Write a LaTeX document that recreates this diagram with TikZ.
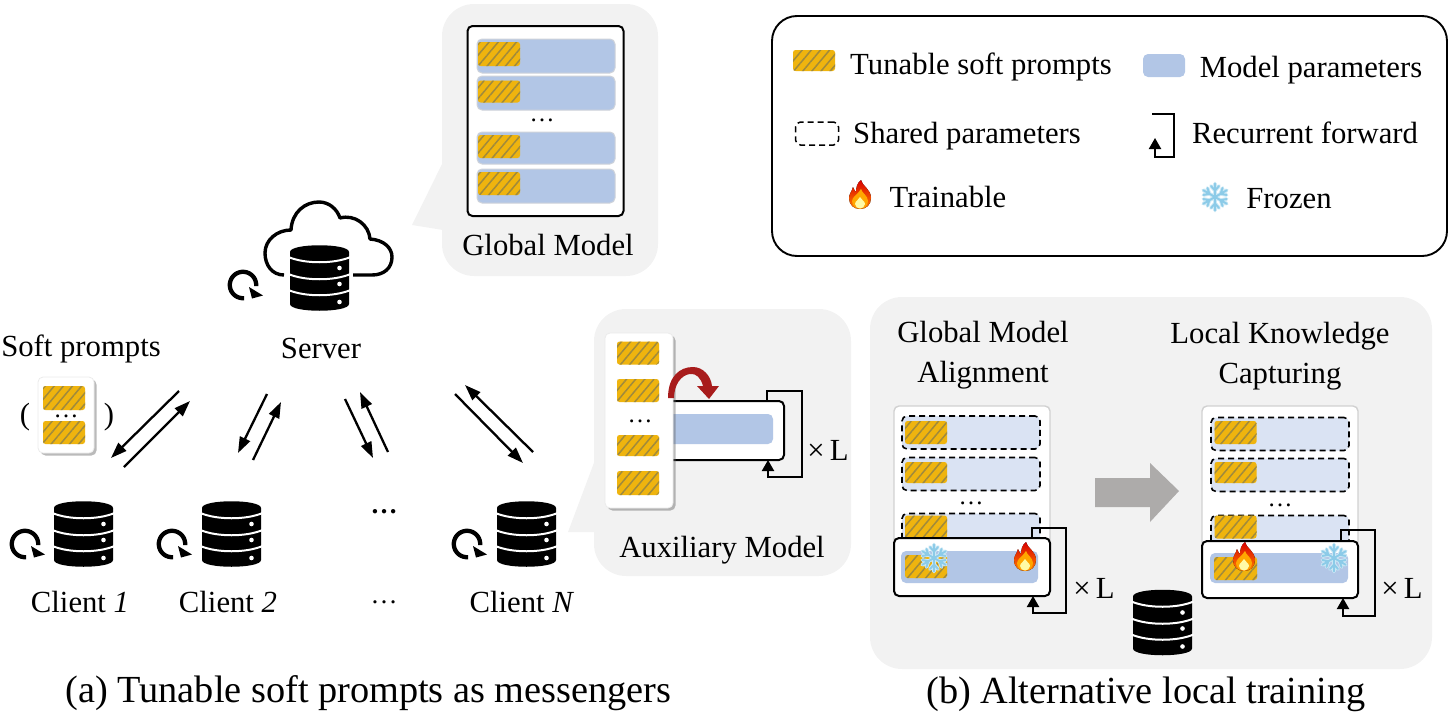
\documentclass[tikz,border=0pt]{standalone}
\usepackage{fontspec}
\setmainfont{Liberation Serif}
\usetikzlibrary{arrows.meta,patterns.meta,shadows}

\definecolor{panelgray}{HTML}{F2F2F2}
\definecolor{promptorange}{HTML}{EFB40E}
\definecolor{promptstripe}{HTML}{A08A3C}
\definecolor{paramblue}{HTML}{B2C6E6}
\definecolor{sharedblue}{HTML}{DAE3F3}
\definecolor{rowedge}{HTML}{CFD3DA}
\definecolor{bigarrow}{HTML}{ADABAA}
\definecolor{redarrow}{HTML}{A81C1C}
\definecolor{snowblue}{HTML}{8CCBE8}

\tikzset{
	lbl/.style={font=\fontsize{30.7}{37}\selectfont,inner sep=0pt,align=center},
	capt/.style={font=\fontsize{38.3}{44}\selectfont,inner sep=0pt,anchor=base},
	ddots/.style={font=\fontsize{25}{25}\selectfont,inner sep=0pt},
	block/.style={inner sep=0pt,outer sep=0pt,rounded corners=5pt},
	panel/.style={block,fill=panelgray,rounded corners=32pt},
	framebox/.style={block,draw=black,line width=2pt,fill=white},
	stackbox/.style={block,draw=black!18,line width=1.4pt,fill=white},
	cardbox/.style={block,fill=white,draw=black!8,line width=.8pt,
		drop shadow={shadow xshift=2.5pt,shadow yshift=-2.5pt,opacity=.45,fill=black!60}},
	param/.style={block,fill=paramblue},
	paramrow/.style={param,draw=rowedge,line width=1pt},
	sharedrow/.style={block,fill=sharedblue,draw=black,line width=1.6pt,dash pattern=on 6pt off 4pt},
	prompt/.style={block,rounded corners=2.5pt,preaction={fill=promptorange},
		pattern={Lines[angle=50,distance=7pt,line width=1.5pt]},pattern color=promptstripe},
	sendline/.style={line width=2.3pt,-{Triangle[length=16pt,width=11pt]}},
	recur/.style={line width=2pt,-{Triangle[length=11pt,width=12pt]}},
	dbicon/.pic={
		\fill[black] (-29.5,-26) .. controls (-29.5,-35) and (29.5,-35) .. (29.5,-26) -- (29.5,26)
			.. controls (29.5,35) and (-29.5,35) .. (-29.5,26) -- cycle;
		\foreach \y in {-21,-4,12}
			\draw[white,line width=2pt] (-31,\y) .. controls (-15,\y+7) and (15,\y+7) .. (31,\y);
		\foreach \y in {-10,6,24}
			\fill[white] (20,\y) circle (2.3pt);
	},
	loopicon/.pic={
		\draw[black,line width=4.3pt] plot[domain=85:365,samples=40,variable=\t] ({13.2*cos(\t)},{13.2*sin(\t)});
		\fill[black] (6,2) -- (20,10.5) -- (9,13.5) -- cycle;
	},
	flameicon/.pic={
		\fill[top color=red!85!black,bottom color=orange] (1,-15) .. controls (2,-9) and (11,-6) .. (11,3)
			.. controls (11,10) and (6,14) .. (0,14) .. controls (-6,14) and (-11,10) .. (-11,3)
			.. controls (-11,-1) and (-8,-4) .. (-7,-8) .. controls (-6,-5) and (-5,-4) .. (-4,-3)
			.. controls (-4,-7) and (-3,-12) .. (1,-15) -- cycle;
		\fill[orange!70!yellow] (1,-6) .. controls (2,-2) and (8,1) .. (8,6) .. controls (8,11) and (4,13.5) .. (0,13.5)
			.. controls (-4,13.5) and (-8,11) .. (-8,6) .. controls (-8,2) and (-2,-1) .. (1,-6) -- cycle;
		\fill[yellow!35] (0,2) .. controls (1,5) and (5,6) .. (5,9) .. controls (5,12) and (2,13.5) .. (0,13.5)
			.. controls (-2,13.5) and (-5,12) .. (-5,9) .. controls (-5,6) and (-1,5) .. (0,2) -- cycle;
	},
	snowicon/.pic={
		\foreach \a in {0,60,...,300}
			\draw[snowblue!45,line width=3.8pt,line cap=round,rotate=\a+30] (0,0) -- (13.5,0) (6.5,0) -- (11,-4) (6.5,0) -- (11,4);
		\foreach \a in {0,60,...,300}
			\draw[snowblue,line width=1.9pt,line cap=round,rotate=\a+30] (0,0) -- (13.5,0) (6.5,0) -- (11,-4) (6.5,0) -- (11,4);
	},
}

\begin{document}
\begin{tikzpicture}[x=1pt,y=-1pt]
	\useasboundingbox (0,0) rectangle (1450,712);
	% backgrounds
	\node[panel,minimum width=216pt,minimum height=272pt] (globalbg) at (550,140) {};
	\fill[panelgray] (443,162) -- (412,225) -- (443,230) -- cycle;
	\node[panel,minimum width=257pt,minimum height=267pt] (auxbg) at (722.5,442.5) {};
	\fill[panelgray] (595,460) -- (568,532) -- (595,532) -- cycle;
	\node[panel,minimum width=562pt,minimum height=372pt] (localbg) at (1151,483) {};
	% legend
	\node[block,draw=black,line width=1.9pt,rounded corners=25pt,minimum width=675pt,minimum height=240pt] (legend) at (1109.5,136) {};
	\node[prompt,minimum width=42pt,minimum height=21pt] (legprompt) at (814,60.5) {};
	\node[lbl] (legpromptt) at (981,67) {Tunable soft prompts};
	\node[param,minimum width=42pt,minimum height=23pt] (legparam) at (1164,65.5) {};
	\node[lbl] (legparamt) at (1311,70) {Model parameters};
	\node[block,draw=black,line width=1.5pt,dash pattern=on 6pt off 4pt,minimum width=43pt,minimum height=23pt] (legshared) at (817,133.5) {};
	\node[lbl] (legsharedt) at (967,136) {Shared parameters};
	\coordinate (legrecs) at (1152,114);
	\coordinate (legrece) at (1155,138);
	\draw[recur] (legrecs) -- (1174,114) |- (1155,157) -- (legrece);
	\node[lbl] (legrecurt) at (1305,133) {Recurrent forward};
	\pic at (860,195) {flameicon};
	\node[lbl] (legtraint) at (948,197) {Trainable};
	\pic at (1215,197) {snowicon};
	\node[lbl] (legfrozent) at (1289,199) {Frozen};
	% global model
	\node[framebox,minimum width=156pt,minimum height=190pt] (globalbox) at (545.5,121) {};
	\foreach \n/\cy/\h in {1/56/34,2/93/34,3/148/32,4/186/34}
		\node[paramrow,minimum width=138pt,minimum height=\h pt] (grow\n) at (546,\cy) {};
	\foreach \n/\cy/\h in {1/54/24,2/91.5/22,3/146.5/23,4/183.5/23}
		\node[prompt,minimum width=42pt,minimum height=\h pt] (gprompt\n) at (499,\cy) {};
	\node[ddots] (gdots) at (542,120) {…};
	\node[lbl] (globalt) at (548,245) {Global Model};
	% server
	\draw[black,line width=3.4pt,line join=round] (284,275) .. controls (272,275) and (265,265) .. (265,253)
		.. controls (265,240) and (277,230) .. (291,230) .. controls (292,212) and (305,202) .. (319,202)
		.. controls (329,202) and (337,209) .. (340,218) .. controls (355,214) and (369,225) .. (370,239)
		.. controls (384,240) and (392,248) .. (392,257) .. controls (392,268) and (384,275) .. (372,275) -- (353,275);
	\pic at (319.5,278) {dbicon};
	\pic at (243,285) {loopicon};
	\node[lbl] (servert) at (321,348) {Server};
	\node[lbl] (softt) at (81,349) {Soft prompts};
	% soft prompts card
	\node[cardbox,minimum width=56pt,minimum height=76pt] (softcard) at (66,415) {};
	\node[prompt,minimum width=42pt,minimum height=24pt] (softp1) at (64,398) {};
	\node[prompt,minimum width=42pt,minimum height=23pt] (softp2) at (64,432.5) {};
	\node[ddots] (softdots) at (66,416) {…};
	\node[lbl] (softl) at (25,417) {(};
	\node[lbl] (softr) at (109,417) {)};
	% clients
	\foreach \n/\dx/\lx/\tx/\txt in {1/83.5/25/80/Client \textit{1},2/231.5/172/228/Client \textit{2},N/526.5/467/522/Client \textit{N}}{
		\pic at (\dx,534) {dbicon};
		\pic at (\lx,544) {loopicon};
		\node[lbl] (client\n) at (\tx,602) {\txt};
	}
	\node[ddots,font=\fontsize{27}{27}\selectfont\bfseries] (topdots) at (384,512) {…};
	\node[ddots,font=\fontsize{27}{27}\selectfont] (botdots) at (384,602) {…};
	% messages
	\foreach \n/\ax/\ay/\bx/\by/\cx/\cy/\dx/\dy in {
		a/179/391/111/458/124/467/190/401,
		b/267/394/238/453/253/460/281/402,
		c/345/399/373/458/388/452/360/392,
		d/455/394/523/463/533/452/465/385}{
		\coordinate (s\n) at (\ax,\ay);
		\coordinate (t\n) at (\bx,\by);
		\coordinate (u\n) at (\cx,\cy);
		\coordinate (v\n) at (\dx,\dy);
		\draw[sendline] (s\n) -- (t\n);
		\draw[sendline] (u\n) -- (v\n);
	}
	% auxiliary model
	\node[framebox,minimum width=124pt,minimum height=59pt] (auxbox) at (722,430.5) {};
	\node[param,minimum width=118pt,minimum height=30pt] (auxparam) at (714,429) {};
	\coordinate (auxout) at (767,401);
	\coordinate (auxin) at (768,460);
	\draw[recur] (auxout) -- (767,391) -- (802,391) -- (802,477) -- (768,477) -- (auxin);
	\node[cardbox,minimum width=68pt,minimum height=175pt] (auxcard) at (639,420.5) {};
	\foreach \n/\cy/\h in {1/353/23,2/390.5/23,3/445.5/21,4/483/24}
		\node[prompt,minimum width=42pt,minimum height=\h pt] (auxp\n) at (638,\cy) {};
	\node[ddots] (auxdots) at (640,421) {…};
	\fill[redarrow] (668,398) .. controls (668,376) and (680,367) .. (693,367)
		.. controls (703,367) and (711,376) .. (712,386) -- (719,386) -- (709,399) -- (697,386) -- (703,386)
		.. controls (701,378) and (696,373) .. (690,374) .. controls (681,375) and (674,385) .. (674,398) -- cycle;
	\node[lbl] (auxl) at (828,450) {×\,L};
	\node[lbl] (auxt) at (722,550) {Auxiliary Model};
	% local training
	\node[lbl] (alignt) at (983,355) {Global Model\\[3pt]Alignment};
	\node[lbl] (capturet) at (1280,356) {Local Knowledge\\[3pt]Capturing};
	\foreach \s/\sx/\rx/\px/\a/\b/\c in {l/972/971/926/432.5/474/503,r/1280/1280/1235.5/434/475/505}{
		\node[stackbox,minimum width=156pt,minimum height=170pt] (stack\s) at (\sx,491) {};
		\node[sharedrow,minimum width=138pt,minimum height=33pt] (\s row1) at (\rx,\a) {};
		\node[sharedrow,minimum width=138pt,minimum height=33pt] (\s row2) at (\rx,\b) {};
		\node[sharedrow,minimum width=138pt,minimum height=33pt] (\s row3) at (\rx,\c+27) {};
		\node[prompt,minimum width=42pt,minimum height=23pt] (\s prompt1) at (\px,432.5) {};
		\node[prompt,minimum width=42pt,minimum height=21pt] (\s prompt2) at (\px,472.5) {};
		\node[prompt,minimum width=42pt,minimum height=23pt] (\s prompt3) at (\px,527) {};
		\node[ddots] (\s dots) at (\rx,\c) {…};
	}
	\node[framebox,minimum width=156pt,minimum height=58pt] (lbox) at (972,567) {};
	\node[param,minimum width=137pt,minimum height=32pt] (lparam) at (969.5,567) {};
	\node[prompt,minimum width=42pt,minimum height=23pt] (lprompt) at (926,566.5) {};
	\pic at (934,558) {snowicon};
	\pic at (1025,557) {flameicon};
	\coordinate (lout) at (1032,538);
	\coordinate (lin) at (1033,596);
	\draw[recur] (lout) -- (1032,528) -- (1066,528) -- (1066,613) -- (1033,613) -- (lin);
	\node[lbl] (ltimes) at (1094,588) {×\,L};
	\node[framebox,minimum width=156pt,minimum height=57pt] (rbox) at (1280,569.5) {};
	\node[param,minimum width=138pt,minimum height=30pt] (rparam) at (1279,568) {};
	\node[prompt,minimum width=43pt,minimum height=23pt] (rprompt) at (1235.5,568.5) {};
	\pic at (1244,557) {flameicon};
	\pic at (1334,558) {snowicon};
	\coordinate (rout) at (1341,541);
	\coordinate (rin) at (1343,598);
	\draw[recur] (rout) -- (1341,530) -- (1375,530) -- (1375,616) -- (1343,616) -- (rin);
	\node[lbl] (rtimes) at (1402,588) {×\,L};
	\fill[bigarrow] (1095,478) -- (1150,478) -- (1150,463) -- (1179,491) -- (1150,522) -- (1150,507) -- (1095,507) -- cycle;
	\pic at (1162.5,622.5) {dbicon};
	% captions
	\node[capt] (capa) at (368.5,702) {(a) Tunable soft prompts as messengers};
	\node[capt] (capb) at (1146,703) {(b) Alternative local training};
\end{tikzpicture}
\end{document}
